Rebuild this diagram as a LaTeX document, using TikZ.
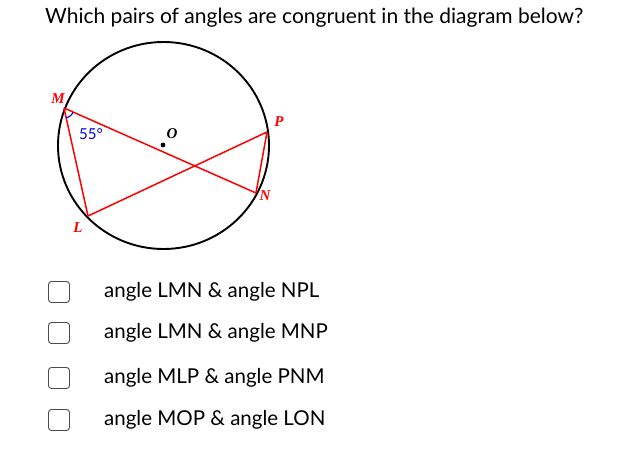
\documentclass[tikz,border=0pt]{standalone}
\usetikzlibrary{calc}
\usepackage{fontspec}
\setmainfont{Lato}
\newfontfamily\serifb{Liberation Serif}
\begin{document}
\begin{tikzpicture}[x=1pt,y=-1pt,
 lbl/.style={text=red,font=\serifb\bfseries\itshape\fontsize{15}{15}\selectfont,inner sep=0},
 chord/.style={red,line width=1.5pt},
 cb/.style={draw=black!70,rounded corners=3pt,minimum size=21pt,inner sep=0,line width=0.9pt},
 opt/.style={anchor=west,font=\fontsize{20.5}{21}\selectfont,inner sep=0}]
\useasboundingbox (0,0) rectangle (624,448);
\node[anchor=west,font=\fontsize{21}{22}\selectfont,inner sep=0] (q) at (45,18) {Which pairs of angles are congruent in the diagram below?};
\draw[line width=1.9pt] (163.5,145.5) ellipse (105.5 and 103.5);
\coordinate (M) at (64,108); \coordinate (P) at (267,132);
\coordinate (N) at (256,193); \coordinate (L) at (88,216);
\draw[chord] (M)--(N) (L)--(P) (M)--(L) (P)--(N);
\fill (163,145) circle (2.4pt);
\draw[blue!80!black,line width=1.1pt] plot[domain=25:79,samples=20] ({64+10*cos(\x)},{108+10*sin(\x)});
\node[lbl] (lM) at (58,99) {M};
\node[lbl] (lP) at (279,122) {P};
\node[lbl] (lN) at (265,196) {N};
\node[lbl] (lL) at (78,228) {L};
\node[lbl,text=black] (lO) at (172,134) {O};
\node[text=blue!80!black,font=\fontsize{15}{15}\selectfont,inner sep=0] (a) at (91,134) {55°};
\foreach \y/\t [count=\i] in {292/angle LMN \& angle NPL,333/angle LMN \& angle MNP,378/angle MLP \& angle PNM,420/angle MOP \& angle LON}{
 \node[cb] (b\i) at (59,\y) {};
 \node[opt] (o\i) at (104,\y) {\t};}
\end{tikzpicture}
\end{document}
